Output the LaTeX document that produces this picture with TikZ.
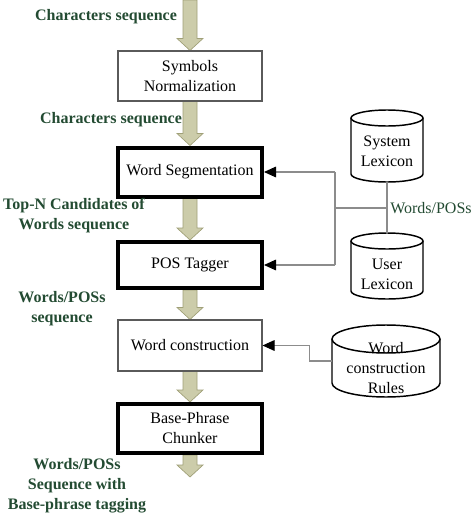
\documentclass[tikz,border=0pt]{standalone}
\usepackage{fontspec}
\setmainfont{Liberation Serif}
\usetikzlibrary{arrows.meta,calc}
\definecolor{lblgreen}{RGB}{35,75,50}
\definecolor{barfill}{RGB}{204,204,170}
\definecolor{bardraw}{RGB}{160,160,120}
\definecolor{connc}{RGB}{140,140,140}
\definecolor{thinc}{RGB}{90,90,90}
\newcommand\barrow[2]{\filldraw[bar] ($(#1)+(-7,0)$) -- ($(#2)+(-7,12)$) -- ($(#2)+(-13,12)$) -- (#2) -- ($(#2)+(13,12)$) -- ($(#2)+(7,12)$) -- ($(#1)+(7,0)$) -- cycle;}
\newcommand\cylshape[5]{%
 \filldraw[cyl] ({#1-#4},{-#2-#5}) -- ({#1-#4},{-#3+#5}) arc[start angle=180,end angle=360,x radius=#4,y radius=#5] -- ({#1+#4},{-#2-#5});
 \draw[cyl] (#1,{-#2-#5}) ellipse[x radius=#4,y radius=#5];}
\begin{document}
\begin{tikzpicture}[x=0.75pt,y=0.75pt,
  every node/.style={font=\fontsize{12}{15}\selectfont, align=center, inner sep=0pt},
  thinbox/.style={draw=thinc, line width=0.8pt, fill=white, minimum width=144*0.75pt},
  thickbox/.style={draw=black, line width=3pt, fill=white, minimum width=144*0.75pt},
  lbl/.style={text=lblgreen, font=\fontsize{12}{15}\selectfont\bfseries},
  bar/.style={fill=barfill, draw=bardraw, line width=0.5pt},
  cyl/.style={draw=black, line width=1.1pt, fill=white},
  conn/.style={draw=connc, line width=0.8pt},
  arr/.style={-{Triangle[length=9pt,width=8pt,fill=black]}, arrows={[color=black]}}
]
\useasboundingbox (0,0) rectangle (474,-514);
% main boxes (placed, drawn later on top of arrows)
\path (190,-76) node[thinbox, minimum height=50*0.75pt] (sn) {Symbols\\Normalization};
\path (190,-172) node[thickbox, minimum height=49*0.75pt] (ws) {Word Segmentation};
\path (190,-265) node[thickbox, minimum height=46*0.75pt] (pos) {POS Tagger};
\path (190,-345.5) node[thinbox, minimum height=51*0.75pt] (wc) {Word construction};
\path (190,-428.5) node[thickbox, minimum height=49*0.75pt] (bpc) {Base-Phrase\\Chunker};
\coordinate (start) at (190,0);
\coordinate (finish) at (190,-477);
% block arrows
\barrow{start}{sn.north}
\barrow{sn.south}{ws.north}
\barrow{ws.south}{pos.north}
\barrow{pos.south}{wc.north}
\barrow{wc.south}{bpc.north}
\barrow{bpc.south}{finish}
% redraw boxes on top
\path (190,-76) node[thinbox, minimum height=50*0.75pt] {Symbols\\Normalization};
\path (190,-172) node[thickbox, minimum height=49*0.75pt] {Word Segmentation};
\path (190,-265) node[thickbox, minimum height=46*0.75pt] {POS Tagger};
\path (190,-345.5) node[thinbox, minimum height=51*0.75pt] {Word construction};
\path (190,-428.5) node[thickbox, minimum height=49*0.75pt] {Base-Phrase\\Chunker};
% labels
\node[lbl] (l1) at (106,-17) {Characters sequence};
\node[lbl] (l2) at (111,-120) {Characters sequence};
\node[lbl] (l3) at (74,-216) {Top-N Candidates of\\Words sequence};
\node[lbl] (l4) at (62,-308.5) {Words/POSs\\sequence};
\node[lbl] (l5) at (77,-485.5) {Words/POSs\\Sequence with\\Base-phrase tagging};
% cylinders
\cylshape{387}{110}{182}{36}{8}
\cylshape{387}{233}{299}{36}{8}
\cylshape{386}{325}{397}{54}{14}
\node[minimum width=72*0.75pt, minimum height=72*0.75pt] (syslex) at (387,-146) {};
\node at (387,-151) {System\\Lexicon};
\node[minimum width=72*0.75pt, minimum height=66*0.75pt] (userlex) at (387,-266) {};
\node at (387,-274) {User\\Lexicon};
\node[minimum width=108*0.75pt, minimum height=72*0.75pt] (rules) at (386,-361) {};
\node at (386,-368.5) {Word\\construction\\Rules};
% connectors
\coordinate (jm) at (335,-208);
\coordinate (jt) at (335,-172);
\coordinate (jb) at (335,-265);
\draw[conn] (syslex.south) -- (userlex.north);
\draw[conn] (syslex.south |- jm) -- (jm);
\draw[conn] (jt) -- (jb);
\draw[conn, arr] (jt) -- (ws.east);
\draw[conn, arr] (jb) -- (pos.east);
\node[anchor=west, text=lblgreen] (wp) at (390,-208) {Words/POSs};
\draw[conn, arr] (rules.west) -- ++(-22,0) |- (wc.east);
\end{tikzpicture}
\end{document}
